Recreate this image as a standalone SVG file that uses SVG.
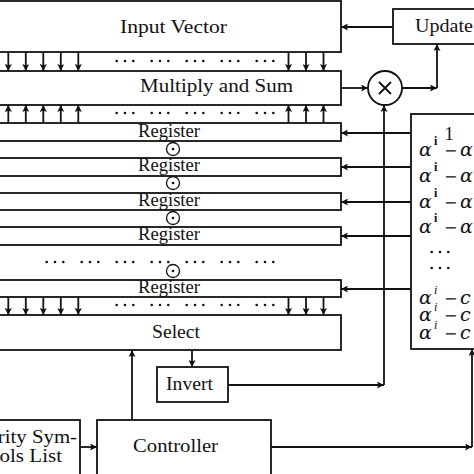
<svg xmlns="http://www.w3.org/2000/svg" xmlns:xlink="http://www.w3.org/1999/xlink" width="474" height="474" viewBox="0 0 474 474">
<defs>
<style>
.box{fill:#fff;stroke:#111;stroke-width:1.8}
.ln{fill:none;stroke:#111;stroke-width:1.8}
.arr{fill:none;stroke:#111;stroke-width:1.8;marker-end:url(#ah)}
.t{font-family:"Liberation Serif","DejaVu Serif",serif;font-size:18.5px;fill:#111}
.m{font-family:"DejaVu Serif","Liberation Serif",serif;fill:#111}
.gi{font-style:italic;font-size:19px}
.sb{font-family:"Liberation Serif",serif;font-size:12px;font-weight:bold}
.si{font-family:"Liberation Serif",serif;font-size:12px;font-style:italic}
.mi{font-size:16px}
.d{fill:#111}
</style>
<marker id="ah" markerUnits="userSpaceOnUse" markerWidth="8" markerHeight="7" refX="7" refY="3.5" orient="auto">
<path d="M0,0 L7,3.5 L0,7 L1.5,3.5 Z" fill="#111"/>
</marker>
<g id="dots3">
<circle class="d" cx="-8.3" cy="0" r="1.3"/><circle class="d" cx="0" cy="0" r="1.3"/><circle class="d" cx="8.3" cy="0" r="1.3"/>
</g>
<g id="odot">
<circle cx="0" cy="0" r="6.5" fill="#fff" stroke="#111" stroke-width="1.3"/><circle class="d" cx="0" cy="0" r="1.3"/>
</g>
</defs>
<rect width="474" height="474" fill="#fff"/>

<g id="input-vector">
<rect class="box" x="-5" y="1" width="346" height="51"/>
<text class="t" x="120" y="33" textLength="107" lengthAdjust="spacingAndGlyphs">Input Vector</text>
</g>
<g id="multiply-sum">
<rect class="box" x="-5" y="71" width="346" height="34"/>
<text class="t" x="140" y="92" textLength="153" lengthAdjust="spacingAndGlyphs">Multiply and Sum</text>
</g>
<g id="register1">
<rect class="box" x="-5" y="123" width="346" height="18"/>
<text class="t" x="138" y="137" textLength="62" lengthAdjust="spacingAndGlyphs">Register</text>
</g>
<g id="register2">
<rect class="box" x="-5" y="158" width="346" height="18"/>
<text class="t" x="138" y="171" textLength="62" lengthAdjust="spacingAndGlyphs">Register</text>
</g>
<g id="register3">
<rect class="box" x="-5" y="193" width="346" height="17"/>
<text class="t" x="138" y="206" textLength="62" lengthAdjust="spacingAndGlyphs">Register</text>
</g>
<g id="register4">
<rect class="box" x="-5" y="227" width="346" height="18"/>
<text class="t" x="138" y="240" textLength="62" lengthAdjust="spacingAndGlyphs">Register</text>
</g>
<g id="register5">
<rect class="box" x="-5" y="280" width="346" height="17"/>
<text class="t" x="138" y="293" textLength="62" lengthAdjust="spacingAndGlyphs">Register</text>
</g>
<g id="select">
<rect class="box" x="-5" y="315" width="346" height="35"/>
<text class="t" x="152" y="338" textLength="48" lengthAdjust="spacingAndGlyphs">Select</text>
</g>
<g id="invert">
<rect class="box" x="157" y="367" width="71" height="35"/>
<text class="t" x="166" y="390" textLength="47" lengthAdjust="spacingAndGlyphs">Invert</text>
</g>
<g id="controller">
<rect class="box" x="97" y="420" width="174" height="60"/>
<text class="t" x="133" y="452" textLength="85" lengthAdjust="spacingAndGlyphs">Controller</text>
</g>
<g id="parity-list">
<rect class="box" x="-30" y="420" width="110" height="60"/>
<text class="t" x="-23" y="443" textLength="100" lengthAdjust="spacingAndGlyphs">Parity Sym-</text>
<text class="t" x="-11" y="462" textLength="73" lengthAdjust="spacingAndGlyphs">bols List</text>
</g>
<g id="update">
<rect class="box" x="393" y="9" width="90" height="35"/>
<text class="t" x="415" y="32" textLength="58" lengthAdjust="spacingAndGlyphs">Update</text>
</g>
<g id="multiplier">
<circle class="box" cx="385" cy="88" r="17"/>
<path class="ln" d="M379,82 L391,94 M391,82 L379,94" stroke-width="1.3"/>
</g>
<g id="alpha-list">
<rect class="box" x="411" y="114" width="80" height="235"/>
<text class="t" x="449" y="140" font-size="17" text-anchor="middle">1</text>
<text class="m"><tspan class="gi" x="419" y="156">α</tspan><tspan class="sb" x="434" y="145">i</tspan><tspan class="mi" x="444" y="156">−</tspan><tspan class="gi" x="460" y="156">α</tspan></text>
<text class="m"><tspan class="gi" x="419" y="182">α</tspan><tspan class="sb" x="434" y="171">i</tspan><tspan class="mi" x="444" y="182">−</tspan><tspan class="gi" x="460" y="182">α</tspan></text>
<text class="m"><tspan class="gi" x="419" y="208">α</tspan><tspan class="sb" x="434" y="197">i</tspan><tspan class="mi" x="444" y="208">−</tspan><tspan class="gi" x="460" y="208">α</tspan></text>
<text class="m"><tspan class="gi" x="419" y="233">α</tspan><tspan class="sb" x="434" y="222">i</tspan><tspan class="mi" x="444" y="233">−</tspan><tspan class="gi" x="460" y="233">α</tspan></text>
<use xlink:href="#dots3" x="440" y="252"/>
<use xlink:href="#dots3" x="440" y="268"/>
<text class="m"><tspan class="gi" x="419" y="304">α</tspan><tspan class="si" x="434" y="294">i</tspan><tspan class="mi" x="444" y="304">−</tspan><tspan class="gi" x="460" y="304">c</tspan></text>
<text class="m"><tspan class="gi" x="419" y="321">α</tspan><tspan class="si" x="434" y="311">i</tspan><tspan class="mi" x="444" y="321">−</tspan><tspan class="gi" x="460" y="321">c</tspan></text>
<text class="m"><tspan class="gi" x="419" y="339">α</tspan><tspan class="si" x="434" y="329">i</tspan><tspan class="mi" x="444" y="339">−</tspan><tspan class="gi" x="460" y="339">c</tspan></text>
</g>
<g id="hadamard-ops">
<use xlink:href="#odot" x="173" y="149"/>
<use xlink:href="#odot" x="173" y="183"/>
<use xlink:href="#odot" x="173" y="218"/>
<use xlink:href="#odot" x="173" y="271"/>
</g>
<g id="ellipses">
<use xlink:href="#dots3" x="125" y="61"/><use xlink:href="#dots3" x="160" y="61"/><use xlink:href="#dots3" x="195" y="61"/><use xlink:href="#dots3" x="230" y="61"/><use xlink:href="#dots3" x="265" y="61"/>
<use xlink:href="#dots3" x="125" y="113"/><use xlink:href="#dots3" x="160" y="113"/><use xlink:href="#dots3" x="195" y="113"/><use xlink:href="#dots3" x="230" y="113"/><use xlink:href="#dots3" x="265" y="113"/>
<use xlink:href="#dots3" x="55" y="262"/><use xlink:href="#dots3" x="90" y="262"/><use xlink:href="#dots3" x="125" y="262"/><use xlink:href="#dots3" x="160" y="262"/><use xlink:href="#dots3" x="195" y="262"/><use xlink:href="#dots3" x="230" y="262"/><use xlink:href="#dots3" x="265" y="262"/>
<use xlink:href="#dots3" x="125" y="305"/><use xlink:href="#dots3" x="160" y="305"/><use xlink:href="#dots3" x="195" y="305"/><use xlink:href="#dots3" x="230" y="305"/><use xlink:href="#dots3" x="265" y="305"/>
</g>

<g id="connectors">
<path class="arr" d="M8.3,52 V71"/><path class="arr" d="M25.8,52 V71"/><path class="arr" d="M43.3,52 V71"/><path class="arr" d="M60.8,52 V71"/><path class="arr" d="M78.3,52 V71"/>
<path class="arr" d="M288.5,52 V71"/><path class="arr" d="M306,52 V71"/><path class="arr" d="M323.5,52 V71"/>
<path class="arr" d="M8.3,123 V105"/><path class="arr" d="M25.8,123 V105"/><path class="arr" d="M43.3,123 V105"/><path class="arr" d="M60.8,123 V105"/><path class="arr" d="M78.3,123 V105"/>
<path class="arr" d="M288.5,123 V105"/><path class="arr" d="M306,123 V105"/><path class="arr" d="M323.5,123 V105"/>
<path class="arr" d="M8.3,297 V315"/><path class="arr" d="M25.8,297 V315"/><path class="arr" d="M43.3,297 V315"/><path class="arr" d="M60.8,297 V315"/><path class="arr" d="M78.3,297 V315"/>
<path class="arr" d="M288.5,297 V315"/><path class="arr" d="M306,297 V315"/><path class="arr" d="M323.5,297 V315"/>
<path class="arr" d="M393,27 H341"/>
<path class="arr" d="M341,88 H368"/>
<path class="arr" d="M402,88 H437"/>
<path class="arr" d="M437,88 V44"/>
<path class="arr" d="M228,385 H384"/>
<path class="arr" d="M384,385 V105"/>
<path class="arr" d="M411,133 H341"/>
<path class="arr" d="M411,167 H341"/>
<path class="arr" d="M411,202 H341"/>
<path class="arr" d="M411,236 H341"/>
<path class="arr" d="M411,289 H341"/>
<path class="arr" d="M132,420 V350"/>
<path class="arr" d="M192,350 V367"/>
<path class="arr" d="M80,447 H97"/>
<path class="arr" d="M271,447 H472"/>
<path class="arr" d="M472,447 V349"/>
</g>
</svg>
